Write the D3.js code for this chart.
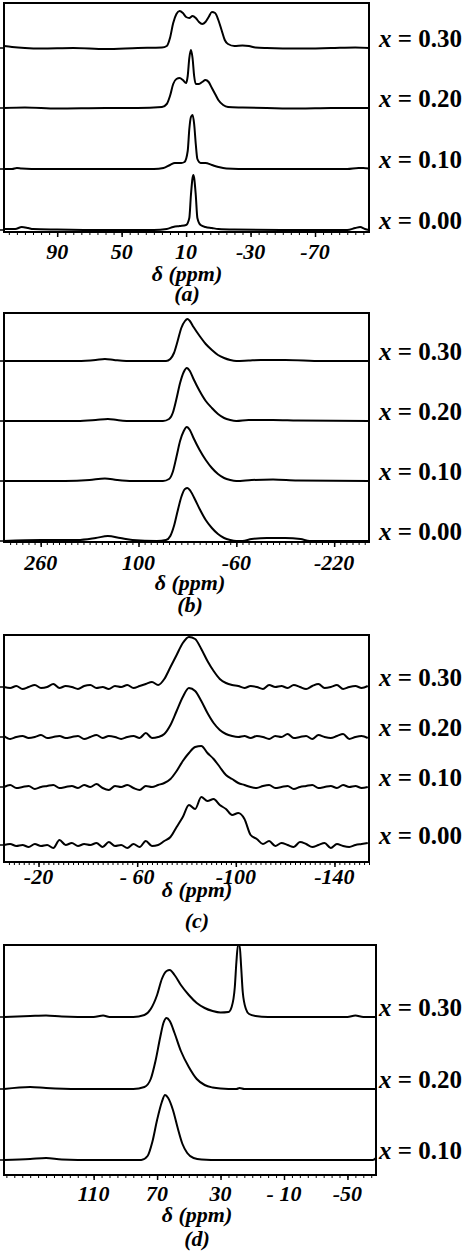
<!DOCTYPE html>
<html><head><meta charset="utf-8">
<script src="https://cdn.jsdelivr.net/npm/d3@7/dist/d3.min.js"></script>
<style>body{margin:0;background:#fff}</style>
</head><body><svg id="c" width="474" height="1254"></svg>
<script>
const labels=["0.30","0.20","0.10","0.00"];
// panel (a)
const aTicks=[90,50,10,-30,-70];
const a30=[[123,2],[118,1],[110,0],[100,-0.5],[80,0],[60,-1],[40,0],[25,0.5],[22,2],[20,10],[18,25],[16,34],[14,37],[12,35],[10,31],[8,30],[6,32],[4,30],[2,26],[0,24],[-2,26],[-4,31],[-6,36],[-8,35],[-10,28],[-12,18],[-14,8],[-16,4],[-20,2],[-25,2.5],[-29,2],[-33,0.5],[-40,0],[-60,-0.5],[-80,0],[-95,0.5],[-103.5,0]];
const a20=[[123,0],[110,0.5],[90,-0.5],[60,0],[40,0],[25,1],[22,4],[20,12],[18,24],[16,29],[14,30],[12,28],[10,25],[9,32],[8,50],[7,58],[6,50],[5,32],[4,24],[2,24],[0,26],[-2,28],[-4,26],[-6,20],[-8,14],[-10,8],[-13,3],[-16,1],[-25,0.5],[-40,0],[-60,-0.5],[-80,0],[-103.5,0]];
const a10=[[123,0],[118,0],[115,1],[112,0.5],[100,0],[60,0],[30,0],[24,1],[20,4],[17,6],[13,6],[11,7],[9,18],[8,40],[7,52],[6,54],[5,45],[4,25],[3,10],[1,6],[-2,6],[-6,4],[-10,2],[-15,0.5],[-30,0],[-60,0],[-90,0],[-97,1],[-100,1],[-103.5,0.5]];
const a00=[[123,1],[116,1],[112,3],[108,2],[105,1],[90,0.5],[60,0],[30,0],[22,1],[18,3],[14,4],[10,5],[8,12],[7,35],[6,52],[5.5,55],[5,52],[4,35],[3,12],[1,5],[-2,3],[-6,2],[-10,1],[-20,0.5],[-60,0],[-90,0],[-95,2],[-98,3],[-101,1],[-103.5,0]];
// panel (b)
const bTicks=[260,100,-60,-220];
const b30=[[320,0],[280,0],[200,0],[170,1],[155,2],[140,1],[120,0],[80,0],[55,0],[48,2],[42,8],[36,20],[30,33],[24,40],[20,42],[16,40],[10,34],[0,25],[-10,17],[-20,11],[-30,6],[-40,3],[-50,1],[-60,0],[-80,0.5],[-100,1],[-140,1],[-200,0],[-277,0]];
const b20=[[320,0],[200,0],[170,1],[150,2],[135,1],[110,0],[60,0],[50,2],[44,8],[38,22],[32,38],[26,49],[21,53],[16,50],[10,42],[0,30],[-10,20],[-20,13],[-30,7],[-40,3],[-50,1],[-60,0],[-80,1],[-120,1],[-160,0.5],[-277,0]];
const b10=[[320,0],[220,0],[180,1],[155,2.5],[135,1],[110,0],[60,0],[50,2],[44,9],[38,24],[32,40],[26,50],[21,54],[16,51],[10,43],[0,31],[-10,21],[-20,13],[-30,7],[-40,3],[-50,1],[-60,0],[-85,1],[-120,1.5],[-160,0.5],[-277,0]];
const b00=[[320,0],[260,1],[200,1],[170,3],[150,5],[130,3],[110,1],[70,0],[55,1],[48,5],[42,15],[36,30],[30,44],[24,52],[20,53],[15,50],[8,42],[0,32],[-10,21],[-20,13],[-30,7],[-40,3],[-50,1],[-60,0],[-70,0],[-85,2],[-110,3],[-140,3],[-165,2],[-180,0],[-277,0]];
// panel (c): intensities on a 2.5 ppm grid from -6 ppm
const cTicks=[-20,-60,-100,-140];
const cTickText=["-20","- 60","-100","-140"];
const c30=[0,-1,1,-2,0,2,-1,0,3,-1, 1,0,-2,1,2,-1,0,-2,1,0, 2,-1,1,3,5,2,8,20,32,44, 50,48,38,26,16,8,4,2,1,-1, 1,0,-2,2,0,1,-1,2,0,-2, 1,3,-1,0,2,-2,0,1,-1,1];
const c20=[1,-2,0,1,-1,0,2,-1,0,1, -1,0,1,-2,0,2,-1,1,0,-2, 0,1,-1,4,-1,0,3,12,26,40, 49,46,36,24,14,7,3,1,0,1, -1,1,0,-2,1,0,3,-1,0,1, -2,2,0,-1,1,3,-2,0,1,-1];
const c10=[0,2,-1,0,1,-2,0,1,2,-1, 0,1,-1,2,0,3,-1,-3,1,0, 2,-1,-3,1,0,2,4,8,16,26, 34,40,41,34,28,20,12,8,4,2, 0,-1,1,2,-1,0,1,-2,0,1, 2,-1,0,1,-1,2,0,1,-1,0];
const c00=[0,1,-1,0,-2,1,-1,0,-3,5, 0,2,-1,1,0,2,-2,3,-1,0, -3,1,-2,4,-1,0,4,8,18,28, 40,36,48,44,46,40,36,30,32,26, 10,6,1,4,-1,2,0,-2,3,1, -2,0,2,-3,1,-1,-2,0,1,2];
// panel (d)
const dTicks=[110,70,30,-10,-50];
const dTickText=["110","70","30","- 10","-50"];
const d30=[[166.5,0],[150,1],[140,1.5],[130,0.5],[110,0],[104,1.5],[100,0],[85,0],[78,2],[74,8],[70,22],[67,38],[64,46],[62,47],[59,42],[55,32],[50,22],[45,14],[40,9],[35,6],[30,4.5],[25,5],[23,10],[21,30],[20,55],[19,72],[18,72],[17,50],[16,25],[14,8],[12,3],[8,1],[0,0],[-30,0],[-50,0],[-55,1.5],[-60,0],[-68,0]];
const d20=[[166.5,0],[150,2],[140,1],[120,0],[85,0],[78,2],[74,10],[71,28],[68,52],[66,66],[64,71],[62,68],[59,56],[55,38],[50,22],[45,10],[40,4],[35,1.5],[30,0.5],[20,0],[18,1],[15,0],[0,0],[-68,0]];
const d10=[[166.5,0],[150,1],[140,2],[130,0.5],[110,0],[80,0],[76,4],[73,18],[70,40],[67,58],[65,65],[63,62],[60,50],[57,32],[54,16],[51,7],[47,2],[42,0.5],[30,0],[0,0],[-60,0],[-66,0],[-68,2]];

const cGrid=d3.range(60).map(i=>-6-2.5*i);
const toPairs=v=>v.map((y,i)=>[cGrid[i],y]);
const FONT="'Liberation Serif','Times New Roman',serif";

const panels=[
 {dom:[123,-103.5],top:3,bot:232,ticks:aTicks,minor:5,series:[a30,a20,a10,a00],base:[48,108,169,230],lab:labels,tickY:259,xl:[187,281],pl:["(a)",301]},
 {dom:[320,-277],top:313,bot:542,ticks:bTicks,minor:10,series:[b30,b20,b10,b00],base:[361,421,481,541],lab:labels,tickY:570,xl:[190,590],pl:["(b)",612]},
 {dom:[-6,-154],top:635,bot:862,ticks:cTicks,tt:cTickText,minor:2,series:[c30,c20,c10,c00].map(toPairs),base:[687,737,787,845],lab:labels,tickY:884,xl:[197,897],pl:["(c)",928]},
 {dom:[166.5,-68],top:945,bot:1175,ticks:dTicks,tt:dTickText,minor:5,series:[d30,d20,d10],base:[1017,1089,1160],lab:labels.slice(0,3),tickY:1201,xl:[197,1222],pl:["(d)",1246],right:376}
];
const svg=d3.select("#c").attr("font-family",FONT).attr("font-weight","bold");
panels.forEach(p=>{
 const L=4,R=p.right||369;
 const x=d3.scaleLinear().domain(p.dom).range([L,R]);
 const g=svg.append("g");
 const lo=Math.min(...p.dom),hi=Math.max(...p.dom);
 const minors=d3.range(Math.ceil(lo/p.minor)*p.minor,hi,p.minor);
 g.append("g").attr("transform",`translate(0,${p.bot})`)
  .call(d3.axisBottom(x).tickValues(minors).tickSize(3).tickFormat(""))
  .call(a=>{a.select(".domain").remove();a.selectAll("line").attr("stroke","#000").attr("stroke-width",1);});
 g.append("g").attr("transform",`translate(0,${p.bot})`)
  .call(d3.axisBottom(x).tickValues(p.ticks).tickSize(5).tickFormat(""))
  .call(a=>{a.select(".domain").remove();a.selectAll("line").attr("stroke","#000").attr("stroke-width",1.5);});
 p.ticks.forEach((t,i)=>g.append("text").attr("x",x(t)).attr("y",p.tickY).attr("text-anchor","middle")
   .attr("font-size",22).attr("font-style","italic").text(p.tt?p.tt[i]:t));
 g.append("rect").attr("x",L).attr("y",p.top).attr("width",R-L).attr("height",p.bot-p.top).attr("fill","none").attr("stroke","#000").attr("stroke-width",2);
 p.series.forEach((s,i)=>{
   const y=d3.scaleLinear().domain([0,1]).range([p.base[i],p.base[i]-1]);
   g.append("path").datum(s).attr("fill","none").attr("stroke","#000").attr("stroke-width",2)
    .attr("stroke-linejoin","round")
    .attr("d",d3.line().x(d=>x(d[0])).y(d=>y(d[1])).curve(d3.curveMonotoneX));
   g.append("line").attr("x1",L-4).attr("x2",L).attr("y1",p.base[i]).attr("y2",p.base[i]).attr("stroke","#000").attr("stroke-width",1.5);
   const t=g.append("text").attr("x",379).attr("y",p.base[i]-1).attr("font-size",25);
   t.append("tspan").attr("font-style","italic").text("x");
   t.append("tspan").text(" = "+p.lab[i]);
 });
 const xl=g.append("text").attr("x",p.xl[0]).attr("y",p.xl[1]).attr("text-anchor","middle").attr("font-size",22).attr("font-style","italic");
 xl.text("δ (ppm)");
 g.append("text").attr("x",p.xl[0]).attr("y",p.pl[1]).attr("text-anchor","middle").attr("font-size",22).attr("font-style","italic").text(p.pl[0]);
});
</script></body></html>
